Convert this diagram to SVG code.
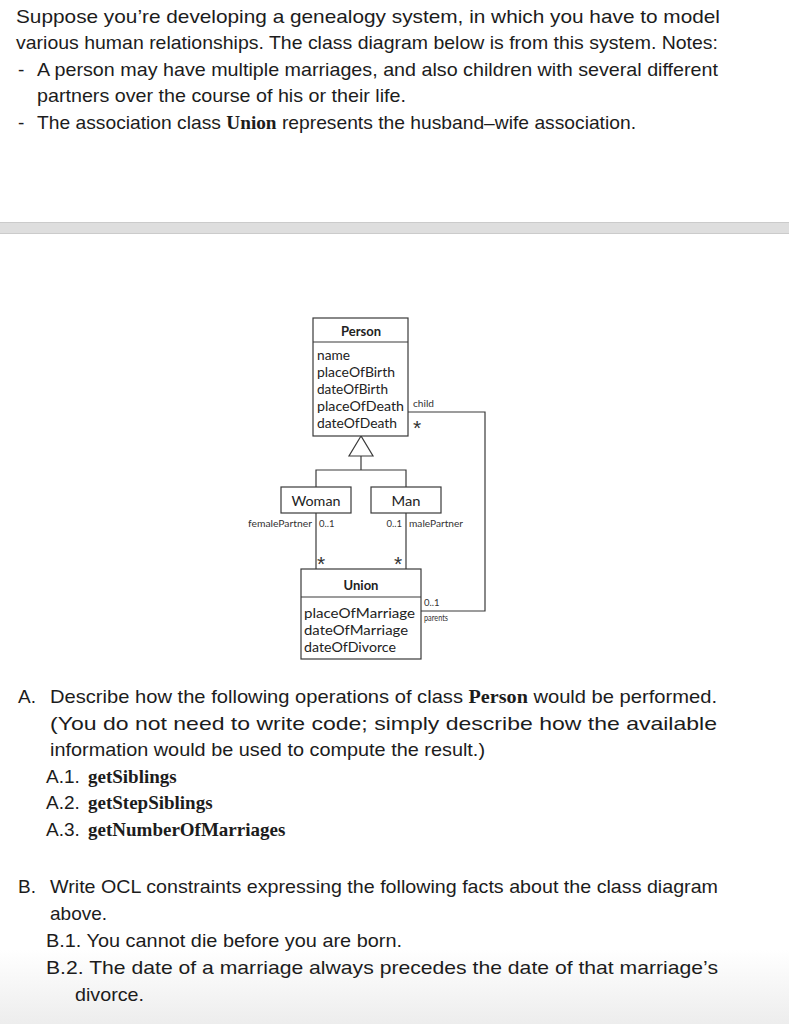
<svg xmlns="http://www.w3.org/2000/svg" width="789" height="1024" viewBox="0 0 789 1024">
<defs>
<linearGradient id="fade" x1="0" y1="0" x2="0" y2="1">
<stop offset="0" stop-color="#ffffff"/>
<stop offset="1" stop-color="#ededed"/>
</linearGradient>
<style>
.body{font-family:"Liberation Sans",Arial,sans-serif;font-size:19px;fill:#1c1c1c}
.serif{font-family:"Liberation Serif","Times New Roman",serif;font-weight:bold}
.box{fill:#ffffff;stroke:#3a3a3a;stroke-width:1.2}
.ln{fill:none;stroke:#3a3a3a;stroke-width:1.2}
.dt{font-family:"Lato","Noto Sans",sans-serif;fill:#222;font-size:14px}
.dtb{font-family:"Lato","Noto Sans",sans-serif;fill:#222;font-size:13px;font-weight:bold}
.sm{font-family:"Lato","Noto Sans",sans-serif;fill:#333;font-size:9.5px}
.st{font-family:"Liberation Sans",Arial,sans-serif;fill:#333;font-size:21px}
</style>
</defs>
<rect x="0" y="0" width="789" height="1024" fill="#ffffff"/>
<rect x="0" y="950" width="789" height="74" fill="url(#fade)"/>

<g id="intro" class="body">
<text x="16" y="23" textLength="704" lengthAdjust="spacingAndGlyphs">Suppose you’re developing a genealogy system, in which you have to model</text>
<text x="16" y="49" textLength="702" lengthAdjust="spacingAndGlyphs">various human relationships. The class diagram below is from this system. Notes:</text>
<text x="18" y="76">-</text>
<text x="37" y="76" textLength="681" lengthAdjust="spacingAndGlyphs">A person may have multiple marriages, and also children with several different</text>
<text x="37" y="102" textLength="369" lengthAdjust="spacingAndGlyphs">partners over the course of his or their life.</text>
<text x="18" y="129">-</text>
<text x="37" y="129" textLength="599" lengthAdjust="spacingAndGlyphs">The association class <tspan class="serif">Union</tspan> represents the husband–wife association.</text>
</g>

<g id="band">
<rect x="0" y="222" width="789" height="12" fill="#dedede"/>
<line x1="0" y1="222.5" x2="789" y2="222.5" stroke="#cbcbcb"/>
<line x1="0" y1="233.5" x2="789" y2="233.5" stroke="#cbcbcb"/>
</g>

<g id="connectors">
<polygon class="ln" points="361,436 349,456 373,456" fill="#fff"/>
<polyline class="ln" points="361,456 361,470"/>
<polyline class="ln" points="316,487 316,470 406,470 406,487"/>
<line class="ln" x1="316" y1="513" x2="316" y2="569"/>
<line class="ln" x1="406" y1="513" x2="406" y2="569"/>
<polyline class="ln" points="408,412 485,412 485,611 421,611"/>
</g>

<g id="labels">
<text class="sm" x="413" y="407" textLength="21" lengthAdjust="spacingAndGlyphs">child</text>
<text class="st" x="413" y="435">*</text>
<text class="sm" x="312" y="527" text-anchor="end" textLength="64" lengthAdjust="spacingAndGlyphs">femalePartner</text>
<text class="sm" x="319" y="527">0..1</text>
<text class="sm" x="402" y="527" text-anchor="end">0..1</text>
<text class="sm" x="409" y="527" textLength="54" lengthAdjust="spacingAndGlyphs">malePartner</text>
<text class="st" x="317" y="571">*</text>
<text class="st" x="394" y="571">*</text>
<text class="sm" x="424" y="606">0..1</text>
<text class="sm" x="424" y="621" textLength="24" lengthAdjust="spacingAndGlyphs">parents</text>
</g>

<g id="Person">
<rect class="box" x="313" y="318" width="95" height="118"/>
<line class="ln" x1="313" y1="342" x2="408" y2="342"/>
<text class="dtb" x="361" y="336" text-anchor="middle">Person</text>
<text class="dt" x="317" y="360" textLength="33" lengthAdjust="spacingAndGlyphs">name</text>
<text class="dt" x="317" y="377" textLength="78" lengthAdjust="spacingAndGlyphs">placeOfBirth</text>
<text class="dt" x="317" y="394" textLength="71" lengthAdjust="spacingAndGlyphs">dateOfBirth</text>
<text class="dt" x="317" y="411" textLength="87" lengthAdjust="spacingAndGlyphs">placeOfDeath</text>
<text class="dt" x="317" y="428" textLength="80" lengthAdjust="spacingAndGlyphs">dateOfDeath</text>
</g>

<g id="Woman">
<rect class="box" x="281" y="487" width="70" height="26"/>
<text class="dt" x="316" y="506" text-anchor="middle" textLength="49" lengthAdjust="spacingAndGlyphs">Woman</text>
</g>

<g id="Man">
<rect class="box" x="371" y="487" width="70" height="26"/>
<text class="dt" x="406" y="506" text-anchor="middle" textLength="29" lengthAdjust="spacingAndGlyphs">Man</text>
</g>

<g id="Union">
<rect class="box" x="301" y="569" width="120" height="90"/>
<line class="ln" x1="301" y1="597" x2="421" y2="597"/>
<text class="dtb" x="361" y="590" text-anchor="middle">Union</text>
<text class="dt" x="304" y="618" textLength="111" lengthAdjust="spacingAndGlyphs">placeOfMarriage</text>
<text class="dt" x="304" y="635" textLength="104" lengthAdjust="spacingAndGlyphs">dateOfMarriage</text>
<text class="dt" x="304" y="652" textLength="92" lengthAdjust="spacingAndGlyphs">dateOfDivorce</text>
</g>

<g id="partA" class="body">
<text x="18" y="703">A.</text>
<text x="50" y="703" textLength="667" lengthAdjust="spacingAndGlyphs">Describe how the following operations of class <tspan class="serif">Person</tspan> would be performed.</text>
<text x="50" y="730" textLength="667" lengthAdjust="spacingAndGlyphs">(You do not need to write code; simply describe how the available</text>
<text x="50" y="756" textLength="435" lengthAdjust="spacingAndGlyphs">information would be used to compute the result.)</text>
<text x="46" y="783">A.1. <tspan class="serif" x="88">getSiblings</tspan></text>
<text x="46" y="809">A.2. <tspan class="serif" x="88">getStepSiblings</tspan></text>
<text x="46" y="836">A.3. <tspan class="serif" x="88">getNumberOfMarriages</tspan></text>
</g>

<g id="partB" class="body">
<text x="18" y="893">B.</text>
<text x="50" y="893" textLength="668" lengthAdjust="spacingAndGlyphs">Write OCL constraints expressing the following facts about the class diagram</text>
<text x="50" y="920">above.</text>
<text x="46" y="947" textLength="356" lengthAdjust="spacingAndGlyphs">B.1.  You cannot die before you are born.</text>
<text x="46" y="974" textLength="672" lengthAdjust="spacingAndGlyphs">B.2. The date of a marriage always precedes the date of that marriage’s</text>
<text x="75" y="1001" textLength="69" lengthAdjust="spacingAndGlyphs">divorce.</text>
</g>
</svg>
